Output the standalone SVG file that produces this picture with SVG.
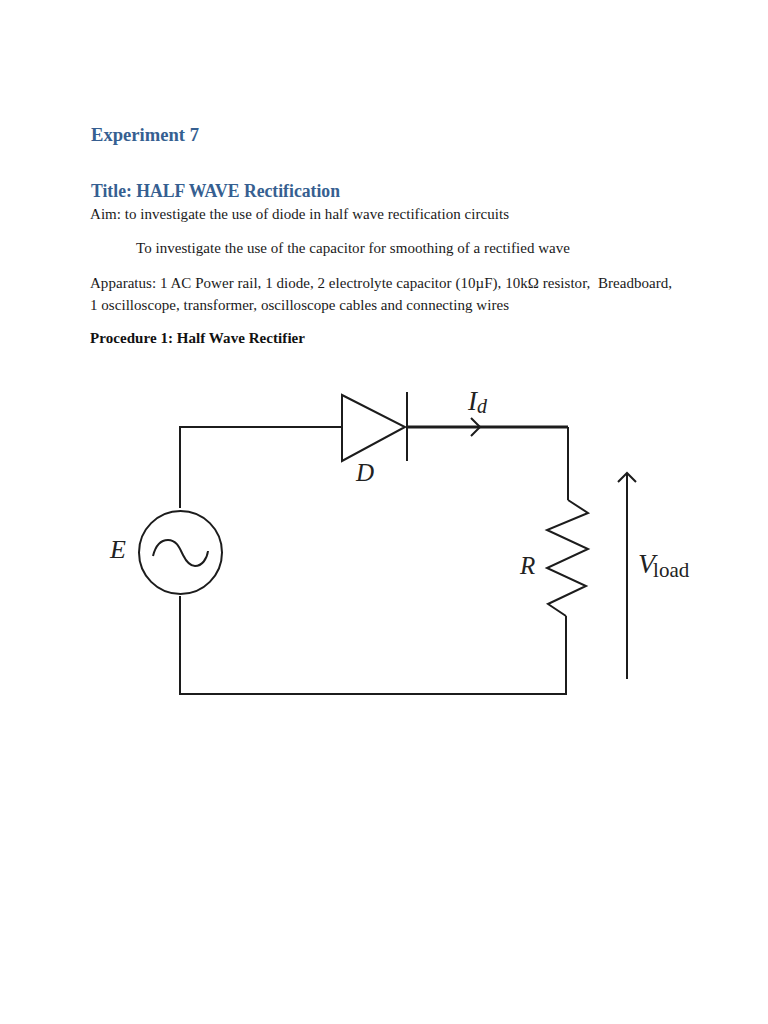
<svg xmlns="http://www.w3.org/2000/svg" width="768" height="1024" viewBox="0 0 768 1024">
<style>
.h{font-family:"Liberation Serif",serif;font-weight:bold;font-size:18px;fill:#365f91}
.b{font-family:"Liberation Serif",serif;font-size:15px;fill:#1a1a1a;white-space:pre}
.p{font-family:"Liberation Serif",serif;font-size:15px;font-weight:bold;fill:#111}
.m{font-family:"Liberation Serif",serif;font-style:italic;fill:#222}
.w{fill:none;stroke:#1c1c1c;stroke-width:2;stroke-linejoin:miter}
</style>
<rect width="768" height="1024" fill="#fff"/>
<g id="text">
<text class="h" x="91" y="141" textLength="108" lengthAdjust="spacingAndGlyphs">Experiment 7</text>
<text class="h" x="91" y="197" textLength="249" lengthAdjust="spacingAndGlyphs">Title: HALF WAVE Rectification</text>
<text class="b" x="90" y="219" textLength="419" lengthAdjust="spacing">Aim: to investigate the use of diode in half wave rectification circuits</text>
<text class="b" x="136" y="253" textLength="434" lengthAdjust="spacing">To investigate the use of the capacitor for smoothing of a rectified wave</text>
<text class="b" x="90" y="288" textLength="582" lengthAdjust="spacing">Apparatus: 1 AC Power rail, 1 diode, 2 electrolyte capacitor (10µF), 10kΩ resistor,  Breadboard,</text>
<text class="b" x="90" y="310" textLength="419" lengthAdjust="spacing">1 oscilloscope, transformer, oscilloscope cables and connecting wires</text>
<text class="p" x="90" y="343" textLength="215" lengthAdjust="spacing">Procedure 1: Half Wave Rectifier</text>
</g>
<g id="connectors">
<path class="w" d="M180 508V427H342"/>
<path class="w" style="stroke-width:3" d="M407 427H568"/>
<path class="w" d="M568 427V500"/>
<path class="w" d="M566 616V694H180V596"/>
<path class="w" d="M471 418L480 427L471 436"/>
<path class="w" d="M627 679V473M618 482L627 473L636 482"/>
</g>
<g id="source-E">
<circle class="w" cx="180.500" cy="552.500" r="41.500"/>
<path class="w" d="M153 556C156 544 161 540 168 540C177 540 180 549 183 555C187 563 191 566 195 566C202 566 207 559 208 551"/>
<text class="m" x="110" y="558" font-size="26">E</text>
</g>
<g id="diode-D">
<path class="w" d="M342 395V461L405 427Z"/>
<path class="w" d="M407 392V461"/>
<text class="m" x="356" y="481" font-size="25">D</text>
</g>
<g id="resistor-R">
<path class="w" d="M568 500L588 513L547 530L588 549L547 568L586 586L548 604L566 616"/>
<text class="m" x="520" y="574" font-size="25">R</text>
</g>
<g id="label-Id">
<text class="m" x="468" y="410" font-size="27">I<tspan font-size="20" dy="3">d</tspan></text>
</g>
<g id="label-Vload">
<text class="m" x="638" y="573" font-size="28">V<tspan font-size="21" font-style="normal" dx="-2" dy="4">load</tspan></text>
</g>
</svg>
